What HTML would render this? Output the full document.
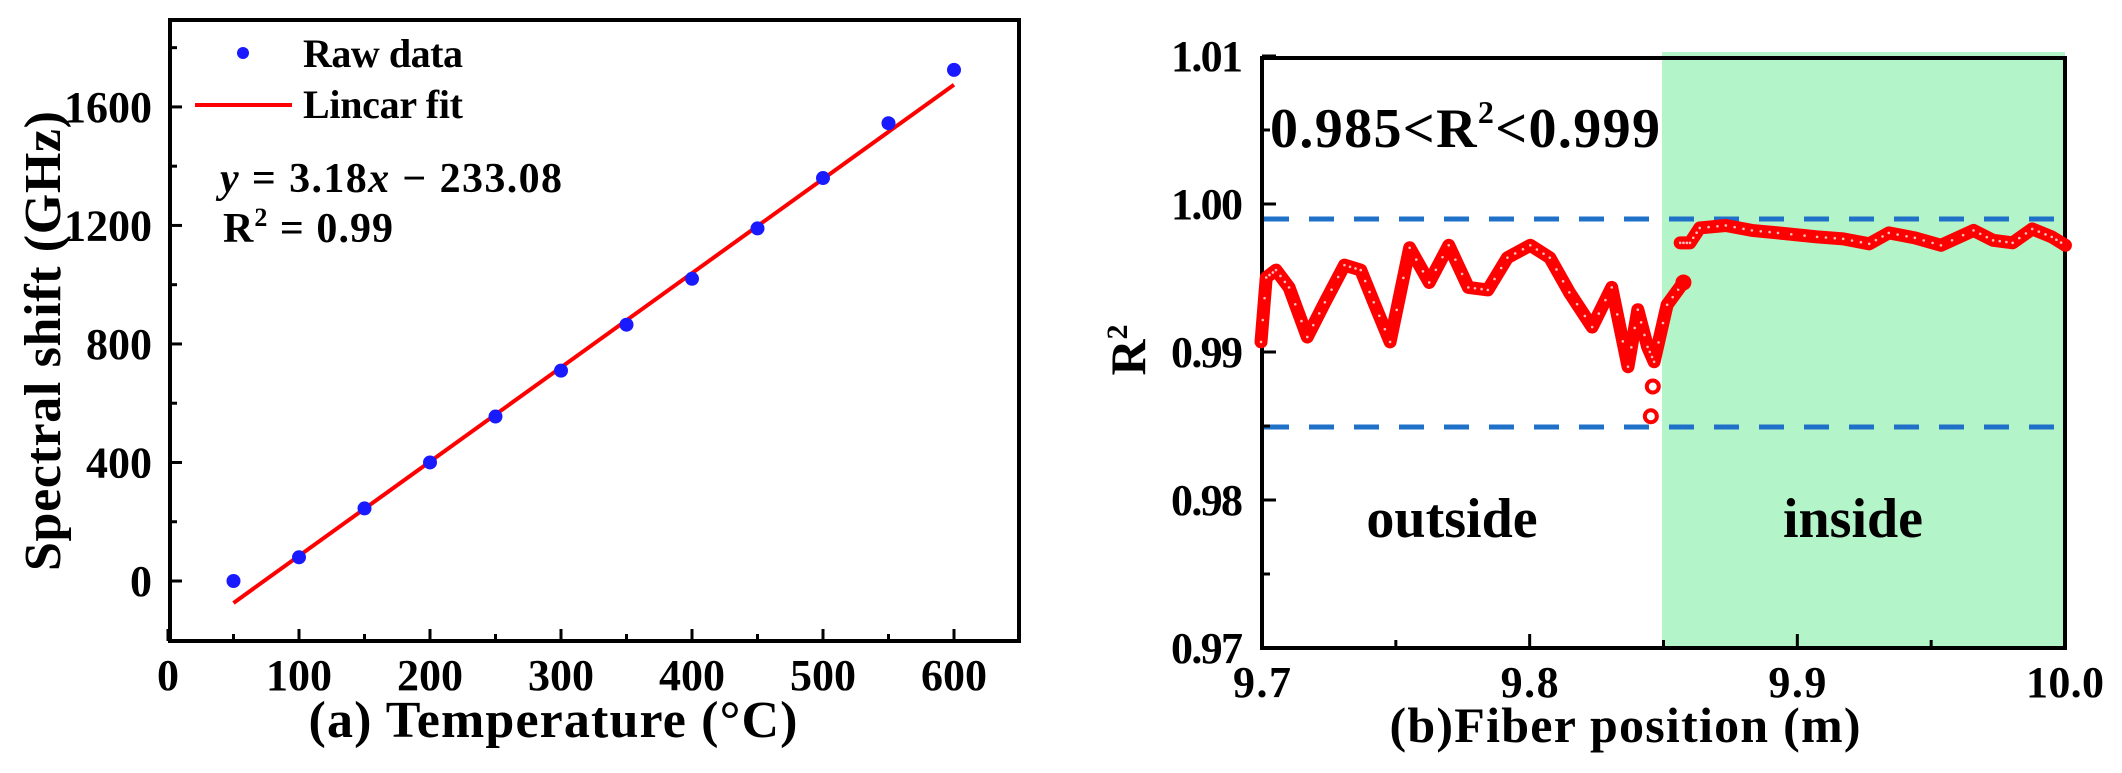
<!DOCTYPE html>
<html><head><meta charset="utf-8"><style>
html,body{margin:0;padding:0;background:#fff;}
svg{display:block;}
text{font-family:"Liberation Serif",serif;font-weight:bold;fill:#000;}
</style></head><body>
<svg id="s" width="2122" height="773" viewBox="0 0 2122 773" xmlns="http://www.w3.org/2000/svg">
<g id="left">
<rect x="170" y="20" width="849" height="621" fill="none" stroke="#000" stroke-width="4"/>
<circle cx="243" cy="53" r="6" fill="#1a1aff"/>
<text x="303" y="67" font-size="40" textLength="160">Raw data</text>
<line x1="195" y1="105" x2="292" y2="105" stroke="#f00" stroke-width="4"/>
<text x="303" y="118" font-size="40" textLength="160">Lincar fit</text>
<text x="220" y="192" font-size="42" textLength="342"><tspan font-style="italic">y</tspan> = 3.18<tspan font-style="italic">x</tspan> − 233.08</text>
<text x="223" y="242" font-size="42" textLength="170">R<tspan font-size="26" dy="-16">2</tspan><tspan dy="16"> = 0.99</tspan></text>
<text transform="translate(60,341) rotate(-90)" text-anchor="middle" font-size="52" textLength="460">Spectral shift (GHz)</text>
<text x="553" y="737" text-anchor="middle" font-size="52" textLength="489">(a) Temperature (°C)</text>
</g>
<g id="right">
<rect x="1662" y="52" width="403" height="596" fill="#b3f5c8"/>
<rect x="1262" y="58" width="803" height="590" fill="none" stroke="#000" stroke-width="4"/>
<line x1="1264" y1="219" x2="2063" y2="219" stroke="#1f70c8" stroke-width="5" stroke-dasharray="25 20"/>
<line x1="1264" y1="427" x2="2063" y2="427" stroke="#1f70c8" stroke-width="5" stroke-dasharray="25 20"/>
<text x="1270" y="147" font-size="56" textLength="390">0.985&lt;R<tspan font-size="32" dy="-24">2</tspan><tspan dy="24">&lt;0.999</tspan></text>
<text x="1452" y="537" text-anchor="middle" font-size="56">outside</text>
<text x="1853" y="537" text-anchor="middle" font-size="56">inside</text>
<text transform="translate(1145,350) rotate(-90)" text-anchor="middle" font-size="50">R<tspan font-size="30" dy="-18">2</tspan></text>
<text x="1625" y="742" text-anchor="middle" font-size="50" textLength="471">(b)Fiber position (m)</text>
</g>
<g id="dyn"></g>
</svg>
<script>
var NS="http://www.w3.org/2000/svg",g=document.getElementById("dyn");
function el(t,a,txt){var e=document.createElementNS(NS,t);for(var k in a)e.setAttribute(k,a[k]);if(txt!==undefined)e.textContent=txt;g.appendChild(e);return e;}
function lx(T){return 168+T*1.31;} function ly(v){return 581-v*0.2963;}
for(var T=0;T<=650;T+=50){var maj=T%100==0;el("line",{x1:lx(T),y1:641,x2:lx(T),y2:641-(maj?12:7),stroke:"#000","stroke-width":3});
 if(maj)el("text",{x:lx(T),y:690,"text-anchor":"middle","font-size":44},T);}
for(var v=-200;v<=1800;v+=200){var maj=v%400==0;if(v<-190)continue;el("line",{x1:170,y1:ly(v),x2:170+(maj?12:7),y2:ly(v),stroke:"#000","stroke-width":3});
 if(maj)el("text",{x:152,y:ly(v)+15,"text-anchor":"end","font-size":44},v);}
el("line",{x1:lx(50),y1:ly(3.18*50-233.08),x2:lx(600),y2:ly(3.18*600-233.08),stroke:"#f00","stroke-width":4});
var D=[[50,0],[100,80],[150,245],[200,400],[250,555],[300,710],[350,865],[400,1020],[450,1190],[500,1360],[550,1545],[600,1725]];
D.forEach(function(d){el("circle",{cx:lx(d[0]),cy:ly(d[1]),r:7,fill:"#1a1aff"});});
function rx(p){return 1262+(p-9.7)/0.3*803;} function ry(v){return 352-(v-0.99)*14800;}
for(var i=0;i<=6;i++){var p=9.7+i*0.05,maj=i%2==0;el("line",{x1:rx(p),y1:648,x2:rx(p),y2:648-(maj?14:8),stroke:"#000","stroke-width":3});
 if(maj)el("text",{x:rx(p),y:697,"text-anchor":"middle","font-size":44,textLength:(i==6?78:58)},p.toFixed(1));}
for(var i=0;i<=8;i++){var v=0.97+i*0.005,maj=i%2==0;el("line",{x1:1262,y1:ry(v),x2:1262+(maj?14:8),y2:ry(v),stroke:"#000","stroke-width":3});
 if(maj)el("text",{x:1243,y:ry(v)+15,"text-anchor":"end","font-size":44,textLength:72},v.toFixed(2));}
var P=[[247,690],[255,560],[270,545],[290,580],[318,680],[345,610],[375,535],[400,545],[420,610],[445,690],[475,500],[505,570],[535,495],[565,580],[595,585],[625,520],[660,495],[690,520],[720,590],[755,660],[785,580],[810,740],[825,625],[840,700],[850,730],[870,615],[895,570]];
var Q=[[890,490],[905,490],[920,460],[960,455],[1000,465],[1040,470],[1100,478],[1140,482],[1180,492],[1210,470],[1250,480],[1290,495],[1340,465],[1370,485],[1400,490],[1430,462],[1460,478],[1481,495]];
function draw(A){var pts=A.map(function(a){return [1100+a[0]/1.534,a[1]/2.018];});
 el("polyline",{points:pts.map(function(p){return p.join(",")}).join(" "),fill:"none",stroke:"#f00","stroke-width":13,"stroke-linejoin":"round","stroke-linecap":"round"});
 for(var i=0;i<pts.length-1;i++){for(var t=0;t<1;t+=0.34){var x=pts[i][0]+(pts[i+1][0]-pts[i][0])*t,y=pts[i][1]+(pts[i+1][1]-pts[i][1])*t;el("circle",{cx:x,cy:y,r:1.3,fill:"#ffc0c0"});}}}
draw(P);draw(Q);
[[848,780],[845,840],[895,570]].forEach(function(a){el("circle",{cx:1100+a[0]/1.534,cy:a[1]/2.018,r:6,fill:"none",stroke:"#f00","stroke-width":4});});
</script>
</body></html>
